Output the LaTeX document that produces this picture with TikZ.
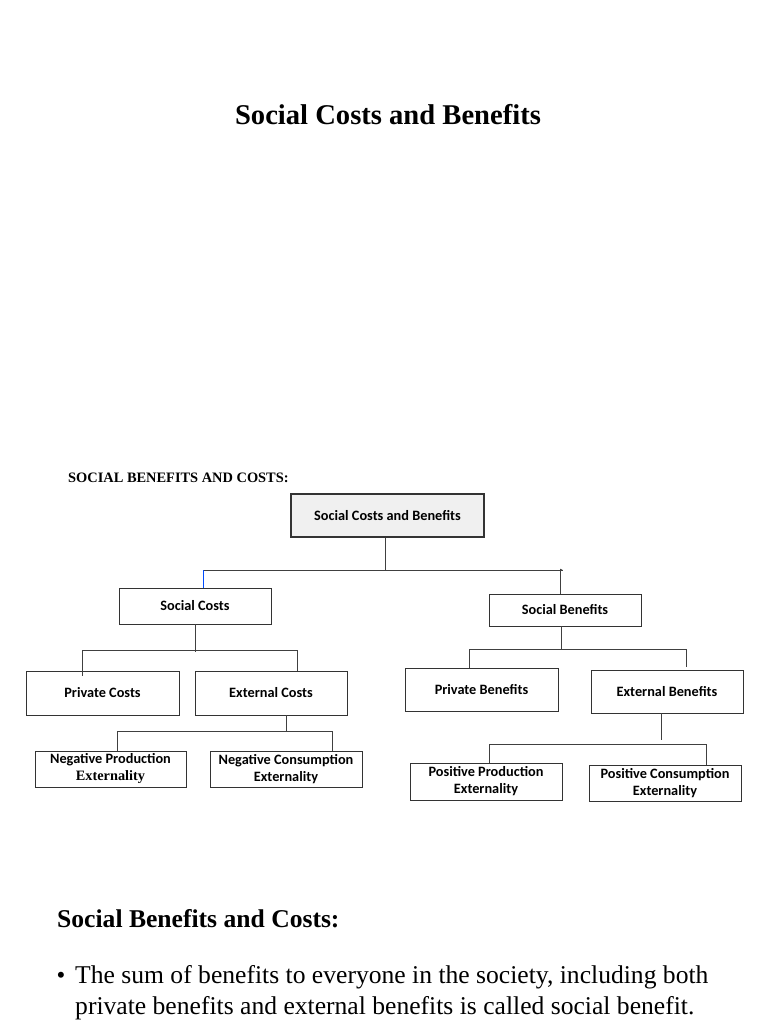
\documentclass[tikz,border=0pt]{standalone}
\usepackage{fontspec}
\setmainfont{Liberation Serif}
\newfontfamily\carl{Carlito}
\usetikzlibrary{arrows.meta}
\begin{document}
\begin{tikzpicture}[x=1pt,y=-1pt,
  box/.style={draw=black!80,line width=0.7pt,font=\carl\bfseries\fontsize{14.3}{17}\selectfont,align=center,inner sep=0pt},
  ln/.style={draw=black!75,line width=0.8pt}]
\useasboundingbox (0,0) rectangle (768,1024);
\fill[white] (0,0) rectangle (768,1024);
\node[font=\bfseries\fontsize{28.6}{32}\selectfont] (title) at (388,115) {Social Costs and Benefits};
\node[anchor=west,inner sep=0pt,font=\bfseries\fontsize{14.4}{16}\selectfont] (sub) at (68,478) {SOCIAL BENEFITS AND COSTS:};
\node[box,fill=black!6,line width=1.6pt,minimum width=193pt,minimum height=43pt] (top) at (387.5,515.5) {Social Costs and Benefits};
\node[box,minimum width=152pt,minimum height=36pt] (sc) at (195,606) {Social Costs};
\node[box,minimum width=152pt,minimum height=32pt] (sb) at (565,610) {Social Benefits};
\node[box,minimum width=153pt,minimum height=44pt] (pc) at (102.5,693) {Private Costs};
\node[box,minimum width=152pt,minimum height=44pt] (ec) at (271,693) {External Costs};
\node[box,minimum width=153pt,minimum height=43pt] (pb) at (481.5,689.5) {Private Benefits};
\node[box,minimum width=152pt,minimum height=43pt] (eb) at (667,691.5) {External Benefits};
\node[box,minimum width=151pt,minimum height=36pt] (np) at (110.5,769) {Negative Production\\{\rmfamily\bfseries Externality}};
\node[box,minimum width=152pt,minimum height=36pt] (nc) at (286,769) {Negative Consumption\\Externality};
\node[box,minimum width=152pt,minimum height=37pt] (pp) at (486,781.5) {Positive Production\\Externality};
\node[box,minimum width=152pt,minimum height=36pt] (pcn) at (665,783) {Positive Consumption\\Externality};
% connectors
\coordinate (j0) at (385,570);
\coordinate (jl) at (203,570);
\coordinate (jr) at (563,570);
\draw[ln] (top.south -| j0) -- (j0);
\draw[ln] (jl) -- (jr);
\draw[ln,-{Latex[length=3pt,width=3pt]}] (j0) -- (jr);
\draw[draw=blue!70!cyan,line width=0.8pt] (jl) -- (jl |- sc.north);
\draw[ln] (560,570) -- (sb.north -| 560,0);
\coordinate (a1) at (82,650); \coordinate (a2) at (297,650);
\draw[ln] (sc.south) -- (195,652);
\draw[ln] (a1) -- (a2);
\draw[ln] (a1) -- (82,676);
\draw[ln] (a2) -- (ec.north -| a2);
\coordinate (b1) at (117,731); \coordinate (b2) at (332,731);
\draw[ln] (ec.south -| 286,0) -- (286,731);
\draw[ln] (b1) -- (b2);
\draw[ln] (b1) -- (np.north -| b1);
\draw[ln] (b2) -- (nc.north -| b2);
\coordinate (c1) at (469,649); \coordinate (c2) at (686,649);
\draw[ln] (sb.south -| 561,0) -- (561,649);
\draw[ln] (c1) -- (c2);
\draw[ln] (c1) -- (pb.north -| c1);
\draw[ln] (c2) -- (686,667);
\coordinate (d1) at (489,744); \coordinate (d2) at (706,744);
\draw[ln] (eb.south -| 661,0) -- (661,740);
\draw[ln] (d1) -- (d2);
\draw[ln] (d1) -- (pp.north -| d1);
\draw[ln] (d2) -- (pcn.north -| d2);
% text
\node[anchor=west,inner sep=0pt,font=\bfseries\fontsize{25.6}{30}\selectfont] (h2) at (57,919) {Social Benefits and Costs:};
\node[anchor=north west,font=\fontsize{25.6}{31}\selectfont,align=left,inner sep=0pt] (body) at (75,965) {The sum of benefits to everyone in the society, including both\\private benefits and external benefits is called social benefit.};
\node[font=\fontsize{25}{30}\selectfont,inner sep=0pt] (bul) at (61,978) {\textbullet};
\end{tikzpicture}
\end{document}
